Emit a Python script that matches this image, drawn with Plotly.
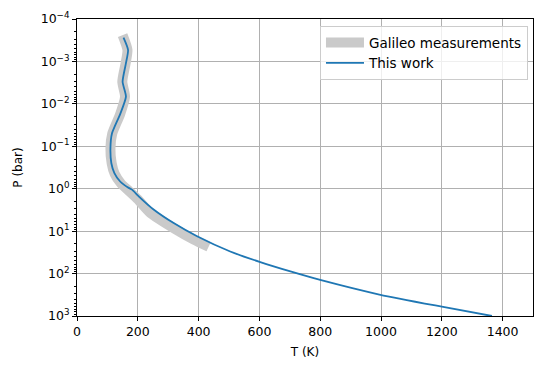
import plotly.graph_objects as go

# Galileo measurements (T in K, P in bar)
T_galileo = [150, 166, 160, 149, 158, 142, 116, 110, 114, 124, 145, 172, 200, 241, 318, 384, 433]
P_galileo = [2.4e-4, 5.37e-4, 1.10e-3, 3.02e-3, 6.76e-3, 1.74e-2, 5.0e-2, 0.112, 0.251,
             0.447, 0.759, 1.15, 1.78, 3.72, 8.51, 15.8, 23.4]

# This work (model profile)
T_model = [153, 168, 161, 150, 161, 142, 115, 110, 113, 123, 142, 170, 181, 203, 252, 318,
           395, 504, 603, 702, 800, 998, 1200, 1365]
P_model = [2.75e-4, 5.37e-4, 1.10e-3, 3.02e-3, 6.76e-3, 1.74e-2, 5.0e-2, 0.112, 0.251, 0.427,
           0.676, 0.955, 1.05, 1.51, 3.09, 6.46, 13.2, 30.2, 53.7, 89.1, 141, 316, 603, 1000]

x_ticks = [0, 200, 400, 600, 800, 1000, 1200, 1400]
y_ticks = [1e-4, 1e-3, 1e-2, 1e-1, 1e0, 1e1, 1e2, 1e3]
y_ticklabels = ["10<sup>−4</sup>", "10<sup>−3</sup>", "10<sup>−2</sup>", "10<sup>−1</sup>",
                "10<sup>0</sup>", "10<sup>1</sup>", "10<sup>2</sup>", "10<sup>3</sup>"]

FONT = "DejaVu Sans"

fig = go.Figure()
fig.add_trace(go.Scatter(x=T_galileo, y=P_galileo, mode="lines", name="Galileo measurements",
                         line=dict(color="#cacaca", width=10, shape="spline", smoothing=0.6)))
fig.add_trace(go.Scatter(x=T_model, y=P_model, mode="lines", name="This work",
                         line=dict(color="#1f77b4", width=1.8, shape="spline", smoothing=0.6)))

axis_common = dict(showline=True, linecolor="black", linewidth=1, mirror=True,
                   ticks="outside", ticklen=4, tickcolor="black", tickwidth=1,
                   showgrid=True, gridcolor="#b0b0b0", gridwidth=1, zeroline=False,
                   tickfont=dict(family=FONT, size=12.5, color="black"))

fig.update_xaxes(range=[0, 1500], tickvals=x_ticks, automargin=True,
                 title=dict(text="T (K)", font=dict(family=FONT, size=12, color="black"), standoff=9),
                 **axis_common)
fig.update_yaxes(type="log", range=[3, -4], tickvals=y_ticks, ticktext=y_ticklabels, automargin=False,
                 title=dict(text="P (bar)", font=dict(family=FONT, size=12, color="black")),
                 minor=dict(ticks="outside", ticklen=2, tickcolor="black", showgrid=False, dtick="D1"),
                 **axis_common)

fig.update_layout(
    width=550, height=372,
    margin=dict(l=77, r=17, t=19, b=56),
    plot_bgcolor="white", paper_bgcolor="white",
    font=dict(family=FONT, size=12, color="black"),
    legend=dict(x=0.989, y=0.976, xanchor="right", yanchor="top", itemwidth=38,
                bgcolor="rgba(255,255,255,0.8)", bordercolor="#cccccc", borderwidth=1,
                font=dict(family=FONT, size=13.5, color="black"), tracegroupgap=0),
    showlegend=True,
)

fig.write_html("out.html", config={"displayModeBar": False},
               post_script="document.body.style.margin='0';document.body.style.padding='0';")
